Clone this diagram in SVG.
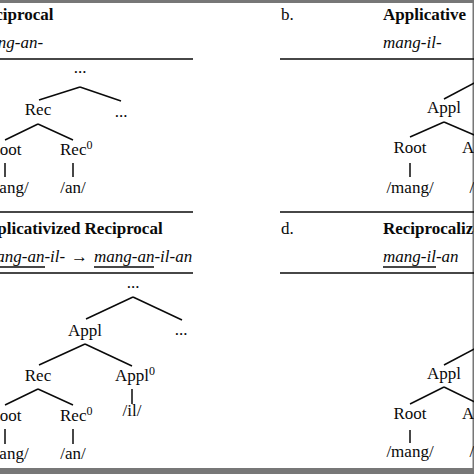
<svg xmlns="http://www.w3.org/2000/svg" width="474" height="474" viewBox="0 0 474 474">
<style>
text{font-family:"Liberation Serif","Times New Roman",serif;font-size:17px;fill:#0a0a0a}
.t{font-weight:bold}
.i{font-style:italic}
.m{text-anchor:middle}
.sup{font-size:12px}
.c line{stroke:#0a0a0a;stroke-width:1.5;fill:none}
.rule{stroke:#0a0a0a;stroke-width:1.5}
.ul{stroke:#0a0a0a;stroke-width:1.3}
</style>
<rect x="0" y="0" width="474" height="474" fill="#fff"/>
<rect x="0" y="0" width="474" height="3" fill="#777"/>
<rect x="0" y="468" width="474" height="6" fill="#777"/>
<rect x="472.5" y="0" width="1.5" height="474" fill="#777"/>

<g id="headers">
<text class="t" x="-24.5" y="20">Reciprocal</text>
<text class="i" x="-23" y="48">mang-an-</text>
<text x="281" y="20">b.</text>
<text class="t" x="383" y="20">Applicative</text>
<text class="i" x="383" y="48">mang-il-</text>
<text class="t" x="-24.5" y="234">Applicativized Reciprocal</text>
<text class="i" y="262"><tspan x="-16">mang-an-il-</tspan><tspan x="71">→</tspan><tspan x="94">mang-an-il-an</tspan></text>
<text x="281" y="234">d.</text>
<text class="t" x="383" y="234">Reciprocalized Applicative</text>
<text class="i" x="383" y="262">mang-il-an</text>
<line class="ul" x1="-16" y1="267" x2="45" y2="267"/>
<line class="ul" x1="94" y1="267" x2="154" y2="267"/>
<line class="ul" x1="383" y1="267" x2="436" y2="267"/>
<line class="rule" x1="0" y1="59" x2="193" y2="59"/>
<line class="rule" x1="280" y1="59" x2="474" y2="59"/>
<line class="rule" x1="0" y1="212" x2="193" y2="212"/>
<line class="rule" x1="280" y1="212" x2="474" y2="212"/>
<line class="rule" x1="0" y1="273" x2="193" y2="273"/>
<line class="rule" x1="280" y1="273" x2="474" y2="273"/>
</g>

<g class="c" id="connectors">
<line x1="39" y1="100" x2="80" y2="87"/><line x1="80" y1="87" x2="121" y2="101"/>
<line x1="5" y1="140" x2="38" y2="124"/><line x1="38" y1="124" x2="73" y2="140"/>
<line x1="5" y1="163" x2="5" y2="177"/><line x1="73" y1="163" x2="73" y2="177"/>
<line x1="444" y1="99" x2="480" y2="80"/>
<line x1="410" y1="137" x2="444" y2="122"/><line x1="444" y1="122" x2="479" y2="137"/>
<line x1="410" y1="163" x2="410" y2="177"/><line x1="479" y1="163" x2="479" y2="177"/>
<line x1="86" y1="319" x2="133" y2="297"/><line x1="133" y1="297" x2="182" y2="320"/>
<line x1="39" y1="365" x2="85" y2="344"/><line x1="85" y1="344" x2="132" y2="366"/>
<line x1="132" y1="389" x2="132" y2="404"/>
<line x1="5" y1="405" x2="38" y2="389"/><line x1="38" y1="389" x2="73" y2="405"/>
<line x1="5" y1="429" x2="5" y2="444"/><line x1="73" y1="429" x2="73" y2="444"/>
<line x1="444" y1="365" x2="480" y2="346"/>
<line x1="410" y1="404" x2="444" y2="387"/><line x1="444" y1="387" x2="479" y2="404"/>
<line x1="410" y1="430" x2="410" y2="443"/><line x1="479" y1="430" x2="479" y2="443"/>
</g>

<g id="a-top"><text class="m" x="80" y="73">...</text></g>
<g id="a-rec"><text class="m" x="38" y="115">Rec</text></g>
<g id="a-dots"><text class="m" x="121" y="117">...</text></g>
<g id="a-root"><text class="m" x="5" y="155">Root</text></g>
<g id="a-rec0"><text x="60" y="155">Rec<tspan class="sup" dy="-6">0</tspan></text></g>
<g id="a-mang"><text class="m" x="5" y="193">/mang/</text></g>
<g id="a-an"><text class="m" x="73" y="193">/an/</text></g>

<g id="b-appl"><text class="m" x="444" y="113">Appl</text></g>
<g id="b-root"><text class="m" x="410" y="153">Root</text></g>
<g id="b-appl0"><text x="462" y="153">Appl<tspan class="sup" dy="-6">0</tspan></text></g>
<g id="b-mang"><text class="m" x="410" y="193">/mang/</text></g>
<g id="b-il"><text class="m" x="479" y="193">/il/</text></g>

<g id="c-top"><text class="m" x="133" y="288">...</text></g>
<g id="c-appl"><text class="m" x="85" y="336">Appl</text></g>
<g id="c-dots"><text class="m" x="181" y="335">...</text></g>
<g id="c-rec"><text class="m" x="38" y="381">Rec</text></g>
<g id="c-appl0"><text x="115" y="381">Appl<tspan class="sup" dy="-6">0</tspan></text></g>
<g id="c-il"><text class="m" x="132" y="416">/il/</text></g>
<g id="c-root"><text class="m" x="5" y="421">Root</text></g>
<g id="c-rec0"><text x="60" y="421">Rec<tspan class="sup" dy="-6">0</tspan></text></g>
<g id="c-mang"><text class="m" x="5" y="459">/mang/</text></g>
<g id="c-an"><text class="m" x="73" y="459">/an/</text></g>

<g id="d-appl"><text class="m" x="444" y="379">Appl</text></g>
<g id="d-root"><text class="m" x="410" y="419">Root</text></g>
<g id="d-appl0"><text x="462" y="419">Appl<tspan class="sup" dy="-6">0</tspan></text></g>
<g id="d-mang"><text class="m" x="410" y="457">/mang/</text></g>
<g id="d-il"><text class="m" x="479" y="457">/il/</text></g>
</svg>
